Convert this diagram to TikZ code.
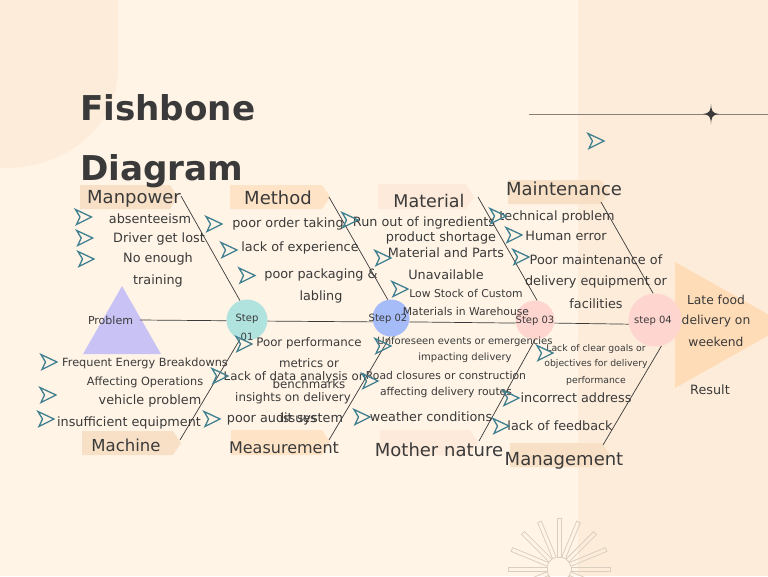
\documentclass[tikz,border=0pt]{standalone}
\usepackage{fontspec}
\setmainfont{DejaVu Sans}
\definecolor{pagebg}{HTML}{FFF4E6}
\definecolor{panelbg}{HTML}{FDECD9}
\definecolor{ink}{HTML}{3A3A3A}
\definecolor{teal}{HTML}{3F7F8F}
\definecolor{tagA}{HTML}{F8E0C6}
\definecolor{tagB}{HTML}{FFE3C6}
\definecolor{tagC}{HTML}{FDEADB}
\definecolor{raycol}{HTML}{D9CFC1}
\definecolor{probcol}{HTML}{C8C2F5}
\definecolor{rescol}{HTML}{FFDCB8}
\definecolor{stepA}{HTML}{B0E2DE}
\definecolor{stepB}{HTML}{A6BCF8}
\definecolor{stepC}{HTML}{FFD5D0}
\newcommand{\fs}[1]{\fontsize{#1}{#1}\selectfont}
\tikzset{
  txt/.style={text=ink,inner sep=0pt,font=\fs{12.8}},
  mid/.style={txt,font=\fs{11.8}},
  small/.style={txt,font=\fs{11.3}},
  tiny/.style={txt,font=\fs{10.8}},
  micro/.style={txt,font=\fs{10}},
  nano/.style={txt,font=\fs{9.3}},
  head/.style={txt,font=\fs{18}},
  title/.style={text=ink,inner sep=0pt,anchor=base west,font=\fs{34.2}\bfseries},
  bone/.style={ink,line width=0.7pt},
  stepdot/.style={circle,inner sep=0pt},
  cheve/.style={teal,line width=1.3pt,line join=miter},
  ray/.style={raycol,line width=0.8pt}
}
\newcommand{\chev}[2]{\draw[cheve] (#1-16,#2-7.5) -- (#1,#2) -- (#1-15,#2+7.5) -- (#1-11.5,#2) -- cycle;}
\newcommand{\tagbox}[6]{\fill[#6] (#1,#2) -- (#3,#2) -- (#3+8,#4) -- (#3,#5) -- (#1,#5) -- cycle;}
\begin{document}
\begin{tikzpicture}[x=1pt,y=-1pt]
\useasboundingbox (0,0) rectangle (768,576);
\clip (0,0) rectangle (768,576);
\fill[pagebg] (0,0) rectangle (768,576);
\fill[panelbg] (578,0) rectangle (768,576);
\fill[panelbg] (0,0) -- (118,0) -- (118,68) .. controls (118,125) and (68,168) .. (5,168) -- (0,168) -- cycle;
% ornament
\draw[ink!60!panelbg,line width=1pt] (529,114) -- (768,114);
\fill[ink] (711,104) .. controls (711.6,111) and (712,113) .. (719,114) .. controls (712,115) and (711.6,117) .. (711,124) .. controls (710.4,117) and (710,115) .. (703,114) .. controls (710,113) and (710.4,111) .. (711,104) -- cycle;
\foreach \a in {0,22.5,...,337.5}{
  \begin{scope}[shift={(559,569)},rotate=\a]
    \draw[ray] (12,-2) -- (51,-2) -- (51,2) -- (12,2) -- cycle;
  \end{scope}
}
% triangles
\fill[probcol] (122,286) -- (161,354) -- (83,354) -- cycle;
\fill[rescol] (675,262) -- (787,325) -- (675,388) -- cycle;
% tags
\tagbox{80}{185}{170}{197}{209}{tagA}
\tagbox{230}{185}{322}{197}{209}{tagB}
\tagbox{378}{184}{466}{197}{209}{tagC}
\tagbox{508}{180}{601}{192}{204}{tagA}
\tagbox{82}{431}{173}{443}{455}{tagA}
\tagbox{231}{430}{322}{442}{455}{tagB}
\tagbox{380}{430}{470}{442}{455}{tagC}
\tagbox{510}{443}{602}{455}{467}{tagA}
% step circles
\node[stepdot,fill=stepA,minimum size=41pt] (s1) at (247,320) {};
\node[stepdot,fill=stepB,minimum size=37pt] (s2) at (391,318) {};
\node[stepdot,fill=stepC,minimum size=39pt] (s3) at (535,320) {};
\node[stepdot,fill=stepC,minimum size=53pt] (s4) at (655,320) {};
% bone ends
\coordinate (manT) at (181,196);
\coordinate (metT) at (329,197);
\coordinate (matT) at (478,197);
\coordinate (mntT) at (601,202);
\coordinate (macT) at (180,440);
\coordinate (meaT) at (329,440);
\coordinate (motT) at (479,441);
\coordinate (mgtT) at (603,445);
\coordinate (probR) at (140,320);
\draw[bone] (probR) -- (s1.182);
\draw[bone] (s1.-3) -- (s2.192);
\draw[bone] (s2.-12) -- (s3.189);
\draw[bone] (s3.-9) -- (s4.189);
\draw[bone] (manT) -- (s1.110);
\draw[bone] (macT) -- (s1.250);
\draw[bone] (metT) -- (s2.100);
\draw[bone] (meaT) -- (s2.267);
\draw[bone] (matT) -- (s3.84);
\draw[bone] (motT) -- (s3.270);
\draw[bone] (mntT) -- (s4.94);
\draw[bone] (mgtT) -- (s4.284);
% title
\node[title] (t1) at (80,120) {Fishbone};
\node[title] (t2) at (80,180) {Diagram};
% heads
\node[head] (hA) at (134,198.5) {Manpower};
\node[head] (hB) at (278,198) {Method};
\node[head,font=\fs{17.5}] (hC) at (429,201) {Material};
\node[head] (hD) at (564,189) {Maintenance};
\node[head,font=\fs{16.5}] (hE) at (126,445) {Machine};
\node[head,font=\fs{16}] (hF) at (284,448) {Measurement};
\node[head] (hG) at (439,450) {Mother nature};
\node[head] (hH) at (564,460.5) {Management};
% steps
\node[micro,font=\fs{11}] (p0) at (110.5,320) {Problem};
\node[micro] (p1) at (247,319) {Step};
\node[micro] (p2) at (247,337) {01};
\node[micro] (p3) at (388,319) {Step 02};
\node[micro] (p4) at (535,321) {Step 03};
\node[micro] (p5) at (653,321) {step 04};
% manpower
\node[txt] (a1) at (150,219) {absenteeism};
\node[txt] (a2) at (159,239) {Driver get lost};
\node[txt] (a3) at (158,259) {No enough};
\node[txt] (a4) at (158,281) {training};
% machine
\node[small] (b1) at (145,363) {Frequent Energy Breakdowns};
\node[small] (b2) at (145,382) {Affecting Operations};
\node[txt] (b3) at (150,401) {vehicle problem};
\node[txt] (b4) at (129,423) {insufficient equipment};
% method
\node[txt] (c1) at (288,224) {poor order taking};
\node[txt] (c2) at (300,248) {lack of experience};
\node[txt] (c3) at (321,275) {poor packaging \&};
\node[txt] (c4) at (321,297) {labling};
% material
\node[txt] (d1) at (424,223) {Run out of ingredients};
\node[txt] (d2) at (441,238) {product shortage};
\node[txt] (d3) at (446,253) {Material and Parts};
\node[txt] (d4) at (446,275) {Unavailable};
\node[tiny] (d5) at (466,293) {Low Stock of Custom};
\node[tiny] (d6) at (466,311) {Materials in Warehouse};
% maintenance
\node[txt] (e1) at (557,217) {technical problem};
\node[txt] (e2) at (566,236) {Human error};
\node[txt] (e3) at (596,260) {Poor maintenance of};
\node[txt] (e4) at (596,282) {delivery equipment or};
\node[txt] (e5) at (596,304) {facilities};
% result
\node[mid,font=\fs{12.3}] (r1) at (716,300) {Late food};
\node[mid,font=\fs{12.3}] (r2) at (716,321) {delivery on};
\node[mid,font=\fs{12.3}] (r3) at (716,342) {weekend};
\node[txt] (r4) at (710,389.5) {Result};
% measurement
\node[mid] (f1) at (309,343) {Poor performance};
\node[mid] (f2) at (309,363) {metrics or};
\node[mid] (f3) at (309,384) {benchmarks};
\node[mid] (f4) at (295,377) {Lack of data analysis on};
\node[mid] (f5) at (293,398) {insights on delivery};
\node[mid] (f6) at (298,418) {issues};
\node[txt] (f7) at (285,419) {poor audit system};
% mother nature
\node[micro] (g1) at (465,342) {Unforeseen events or emergencies};
\node[micro] (g2) at (465,358) {impacting delivery};
\node[tiny] (g3) at (446,375) {Road closures or construction};
\node[tiny] (g4) at (446,393) {affecting delivery routes};
\node[txt] (g5) at (431,417) {weather conditions};
% management
\node[txt] (h1) at (576,398) {incorrect address};
\node[txt] (h2) at (560,426) {lack of feedback};
\node[nano] (h3) at (596,349) {Lack of clear goals or};
\node[nano] (h4) at (596,364) {objectives for delivery};
\node[nano] (h5) at (596,381) {performance};
% chevrons
\chev{91.5}{217}\chev{92.7}{238}\chev{94}{259}
\chev{57}{362}\chev{56}{395}\chev{54}{419}
\chev{222}{224}\chev{237}{250}\chev{255}{275.5}
\chev{358}{220}\chev{391}{258}\chev{408}{289}
\chev{506}{216}\chev{522}{235}\chev{529}{257}
\chev{604}{141}
\chev{252}{344}\chev{228}{376}\chev{220}{419}
\chev{391}{346}\chev{378}{381}\chev{370}{417}
\chev{553}{353}\chev{519}{398}\chev{509}{426}
\end{tikzpicture}
\end{document}
